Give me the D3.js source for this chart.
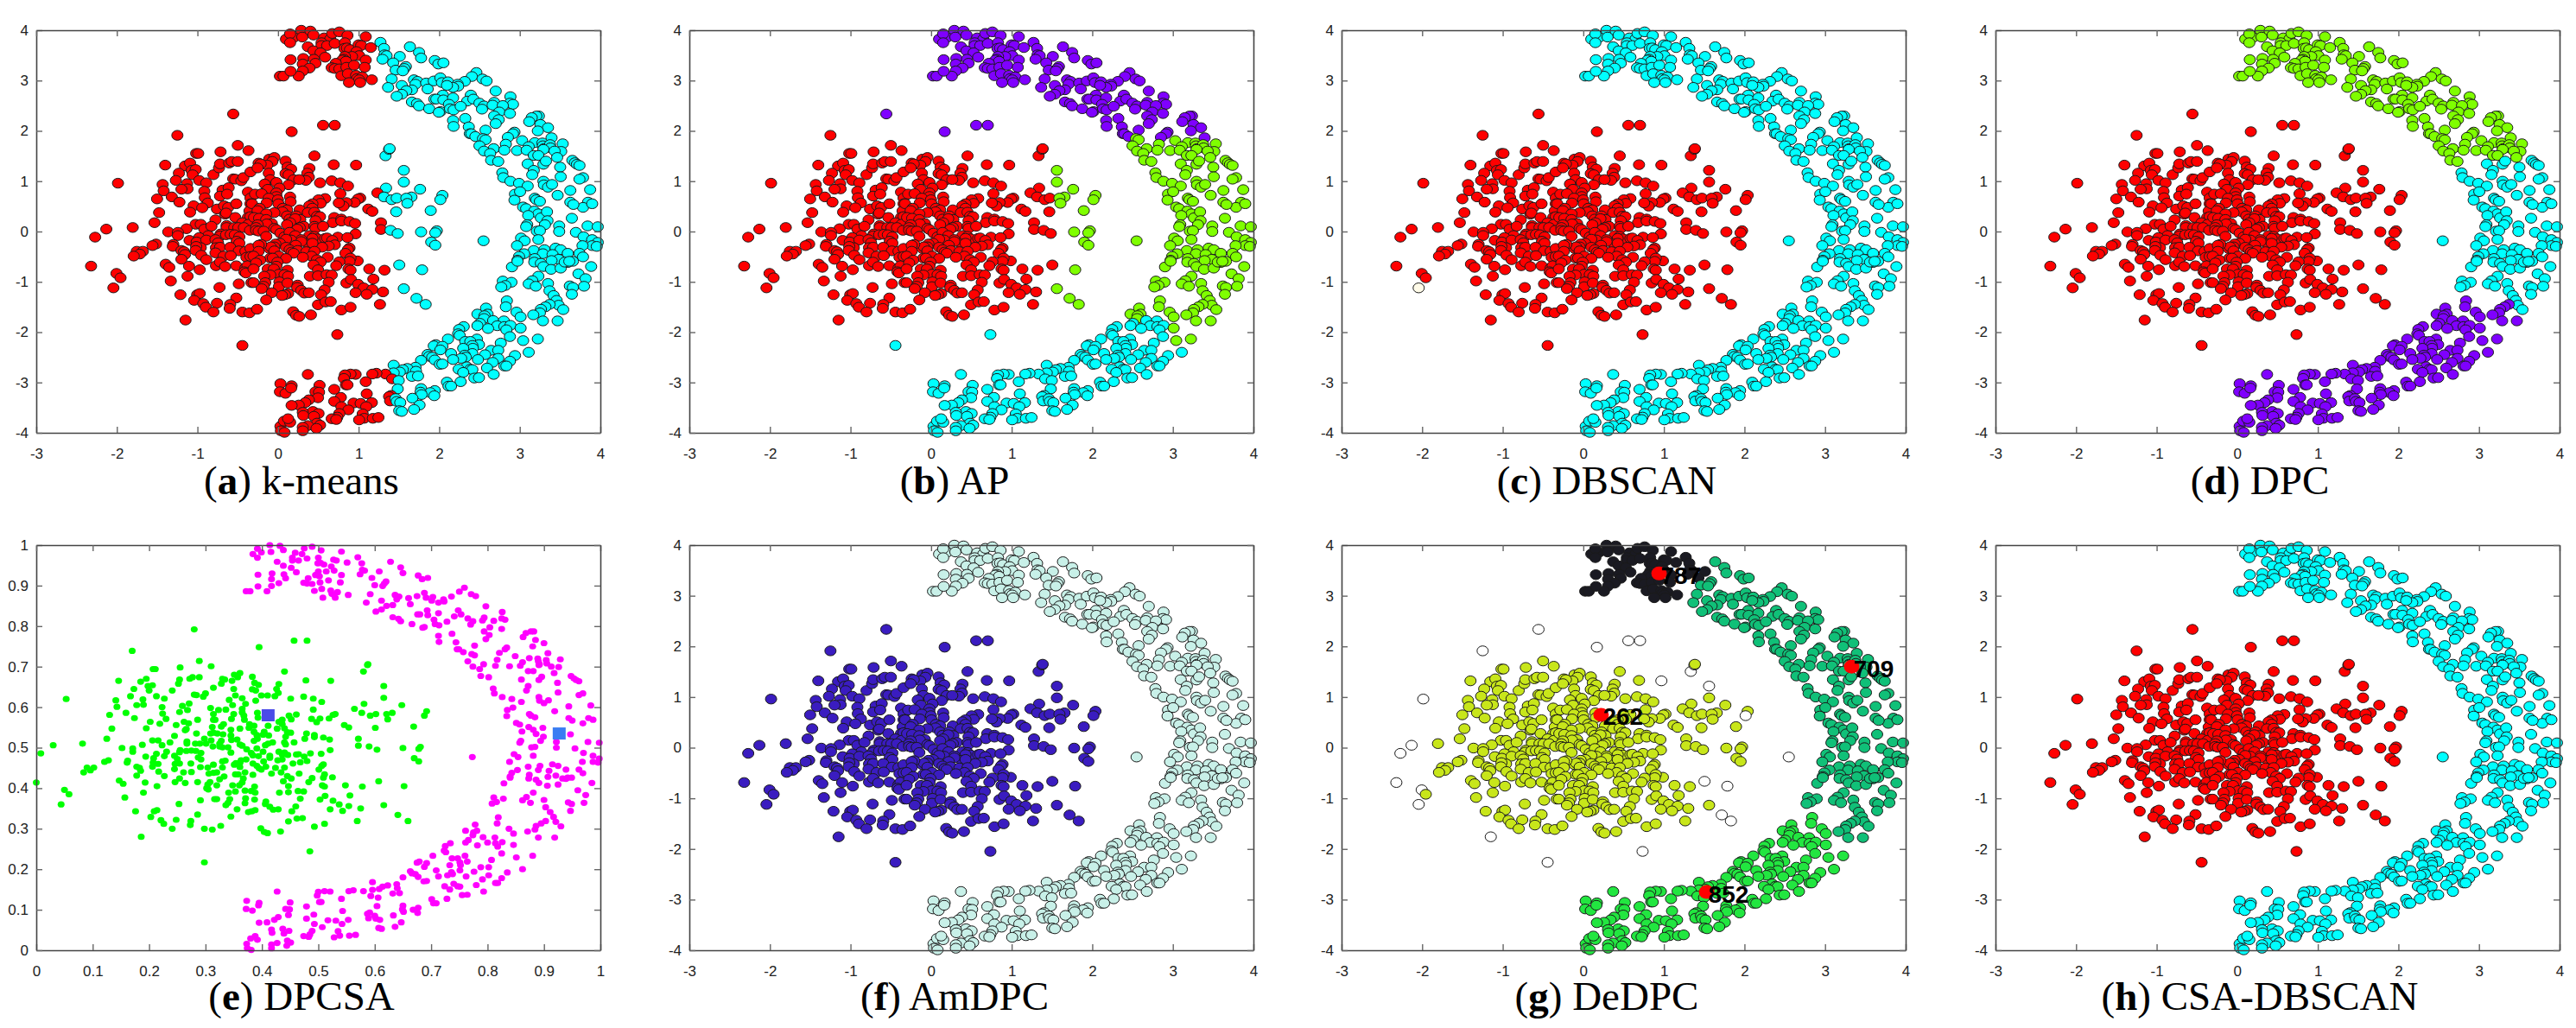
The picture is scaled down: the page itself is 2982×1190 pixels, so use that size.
<!DOCTYPE html>
<html>
<head>
<meta charset="utf-8">
<script src="https://d3js.org/d3.v7.min.js"></script>
<style>
  html, body { margin: 0; background: #fff; }
  svg { display: block; }
  .tick text { font-family: "Liberation Sans", sans-serif; font-size: 17px; fill: #222; }
  .caption { font-family: "Liberation Serif", serif; font-size: 47px; fill: #000; text-anchor: middle; }
  .center-label { font-family: "Liberation Sans", sans-serif; font-size: 28px; font-weight: bold; fill: #000; }
</style>
</head>
<body>
<div class="canvas"></div>
<script>
const blobPts = [
[.207,.694],[.211,.694],[.255,.698],[.310,.701],[.146,.665],[.185,.663],[.195,.670],[.173,.645],[.198,.652],[.206,.654],
[.200,.641],[.167,.627],[.213,.627],[.227,.621],[.241,.641],[.252,.658],[.254,.668],[.272,.670],[.277,.674],[.289,.674],
[.280,.631],[.284,.630],[.296,.626],[.300,.634],[.314,.648],[.053,.620],[.141,.617],[.143,.601],[.189,.619],[.190,.606],
[.178,.605],[.223,.600],[.224,.584],[.230,.571],[.259,.603],[.271,.609],[.254,.588],[.268,.593],[.309,.598],[.130,.581],
[.159,.586],[.174,.573],[.202,.564],[.219,.559],[.195,.548],[.248,.556],[.262,.564],[.270,.560],[.286,.569],[.264,.543],
[.266,.546],[.314,.583],[.314,.569],[.312,.551],[.134,.547],[.284,.535],[.309,.535],[.314,.537],[.245,.529],[.125,.522],
[.206,.518],[.216,.518],[.223,.506],[.237,.513],[.267,.515],[.267,.510],[.298,.522],[.310,.518],[.282,.510],[.290,.510],
[.301,.510],[.313,.503],[.082,.510],[.030,.506],[.008,.486],[.188,.507],[.152,.499],[.171,.498],[.171,.490],[.231,.490],
[.255,.494],[.254,.489],[.266,.492],[.275,.493],[.283,.492],[.292,.487],[.194,.478],[.213,.485],[.208,.474],[.227,.479],
[.245,.480],[.250,.472],[.287,.476],[.292,.471],[.128,.469],[.121,.465],[.162,.468],[.161,.463],[.216,.460],[.207,.463],
[.206,.453],[.246,.460],[.254,.461],[.274,.461],[.291,.452],[.304,.451],[.314,.458],[.178,.453],[.183,.450],[.185,.443],
[.178,.431],[.090,.451],[.102,.451],[.096,.444],[.084,.439],[.217,.441],[.227,.430],[.245,.447],[.261,.439],[.275,.440],
[.306,.436],[.314,.438],[.147,.419],[.154,.411],[.193,.414],[.214,.405],[.246,.415],[.254,.424],[.264,.413],[.286,.415],
[.304,.409],[.308,.415],[.302,.400],[.305,.397],[.190,.389],[.050,.396],[.058,.385],[.044,.360],[.157,.377],[.253,.361],
[.291,.370],[.316,.373],[.176,.343],[.209,.343],[.214,.346],[.203,.329],[.286,.335],[.221,.321],[.226,.312],[.248,.322],
[.274,.319],[.273,.309],[.241,.300],[.298,.300],[.312,.298],[.186,.280],[.000,.414],
[.440,.688],[.478,.666],[.522,.665],[.580,.688],[.587,.704],[.616,.652],[.616,.623],[.383,.675],[.351,.680],[.361,.684],
[.357,.674],[.347,.665],[.330,.670],[.334,.668],[.328,.658],[.350,.645],[.387,.660],[.394,.655],[.383,.644],[.389,.641],
[.430,.657],[.426,.645],[.429,.635],[.423,.627],[.399,.629],[.410,.629],[.353,.629],[.365,.622],[.342,.618],[.389,.616],
[.348,.605],[.371,.608],[.365,.596],[.451,.621],[.474,.626],[.491,.621],[.506,.613],[.581,.608],[.323,.593],[.336,.594],
[.365,.587],[.350,.583],[.368,.579],[.346,.571],[.317,.569],[.491,.594],[.564,.596],[.577,.586],[.592,.579],[.602,.583],
[.530,.583],[.526,.581],[.519,.572],[.503,.572],[.497,.563],[.488,.571],[.461,.582],[.448,.579],[.452,.570],[.436,.569],
[.430,.564],[.436,.558],[.392,.586],[.393,.574],[.369,.569],[.378,.558],[.386,.554],[.377,.549],[.361,.547],[.332,.558],
[.328,.552],[.345,.544],[.321,.535],[.331,.533],[.345,.530],[.411,.554],[.427,.547],[.440,.548],[.445,.538],[.451,.537],
[.386,.539],[.391,.531],[.404,.539],[.412,.530],[.402,.532],[.546,.556],[.554,.550],[.601,.549],[.479,.535],[.476,.522],
[.493,.531],[.493,.526],[.509,.525],[.520,.520],[.571,.522],[.571,.505],[.590,.503],[.604,.495],[.521,.494],[.442,.527],
[.392,.522],[.386,.517],[.356,.520],[.346,.519],[.328,.517],[.419,.513],[.411,.510],[.406,.506],[.440,.513],[.442,.508],
[.457,.513],[.325,.510],[.361,.508],[.365,.505],[.325,.503],[.330,.501],[.340,.501],[.345,.488],[.373,.496],[.381,.487],
[.391,.498],[.402,.490],[.430,.490],[.440,.488],[.446,.482],[.436,.483],[.414,.480],[.394,.479],[.384,.481],[.461,.483],
[.465,.484],[.486,.486],[.505,.485],[.475,.478],[.480,.467],[.468,.464],[.455,.461],[.428,.469],[.436,.471],[.414,.475],
[.403,.466],[.372,.471],[.363,.469],[.361,.462],[.351,.458],[.354,.462],[.335,.468],[.330,.466],[.330,.451],[.361,.452],
[.384,.461],[.391,.455],[.395,.449],[.407,.453],[.399,.446],[.424,.450],[.440,.451],[.434,.439],[.417,.436],[.466,.436],
[.509,.459],[.506,.455],[.501,.446],[.525,.427],[.511,.434],[.509,.426],[.320,.439],[.370,.439],[.353,.434],[.358,.434],
[.384,.433],[.367,.424],[.333,.429],[.325,.422],[.445,.430],[.452,.424],[.489,.425],[.483,.415],[.438,.417],[.447,.405],
[.320,.407],[.348,.407],[.365,.414],[.360,.407],[.387,.404],[.370,.394],[.353,.392],[.341,.389],[.381,.393],[.388,.389],
[.431,.389],[.447,.390],[.464,.393],[.474,.392],[.507,.407],[.511,.404],[.548,.407],[.578,.404],[.607,.417],[.320,.373],
[.343,.373],[.340,.364],[.336,.358],[.371,.375],[.370,.363],[.387,.372],[.468,.374],[.503,.372],[.512,.381],[.526,.369],
[.556,.382],[.537,.360],[.554,.356],[.521,.348],[.543,.344],[.575,.350],[.616,.358],[.356,.348],[.407,.367],[.406,.361],
[.414,.354],[.420,.347],[.429,.348],[.460,.355],[.453,.343],[.388,.346],[.382,.343],[.376,.341],[.345,.330],[.447,.318],
[.462,.325],[.472,.326],[.569,.319],[.398,.301],[.404,.292],[.410,.289],[.433,.293],[.493,.305],[.511,.312],[.327,.307],
[.648,.605],[.631,.586],[.692,.590],[.688,.579],[.669,.552],[.650,.499],[.681,.502],[.678,.497],[.670,.474],[.678,.466],
[.652,.405],[.641,.334],[.659,.319],[.621,.583],[.623,.570],[.457,.764],[.480,.764],[.395,.748],[.588,.706],[.280,.792],
[.170,.739],[.289,.714],[.298,.217],[.485,.244]
];

const crescentPts = [
[.414,1.0],[.432,.998],[.438,.988],[.399,.982],[.416,.983],[.459,.981],[.471,.978],[.475,.992],[.489,.996],[.505,.987],
[.541,.984],[.570,.970],[.454,.969],[.454,.962],[.465,.962],[.480,.967],[.500,.969],[.427,.959],[.438,.949],[.452,.944],
[.499,.955],[.504,.956],[.510,.952],[.527,.964],[.532,.962],[.551,.957],[.577,.955],[.628,.959],[.646,.945],[.650,.931],
[.523,.947],[.528,.937],[.578,.939],[.582,.937],[.574,.928],[.608,.935],[.461,.933],[.418,.930],[.439,.928],[.442,.918],
[.417,.916],[.514,.935],[.500,.935],[.498,.928],[.495,.926],[.502,.923],[.541,.926],[.677,.925],[.684,.916],[.694,.919],
[.482,.918],[.474,.907],[.480,.905],[.489,.904],[.503,.908],[.518,.913],[.539,.908],[.595,.919],[.600,.901],[.620,.910],
[.617,.905],[.614,.899],[.430,.906],[.417,.899],[.409,.886],[.493,.887],[.506,.892],[.522,.888],[.524,.880],[.534,.884],
[.528,.877],[.530,.870],[.508,.870],[.553,.877],[.592,.879],[.636,.877],[.643,.873],[.639,.866],[.660,.869],[.675,.874],
[.688,.882],[.691,.870],[.585,.858],[.612,.863],[.663,.854],[.632,.852],[.621,.850],[.612,.841],[.602,.836],[.693,.839],
[.676,.829],[.680,.829],[.694,.827],[.632,.822],[.642,.818],[.646,.812],[.666,.805],[.688,.798],[.685,.796],
[.372,.886],[.379,.886],[.384,.978],[.392,.991],[.392,.969],[.393,.927],[.393,.898],
[.759,.895],[.750,.885],[.771,.879],[.779,.874],[.736,.873],[.703,.872],[.722,.866],[.723,.861],[.713,.858],[.701,.863],
[.797,.849],[.748,.839],[.826,.835],[.713,.832],[.741,.824],[.753,.829],[.765,.819],[.774,.812],[.770,.804],[.794,.821],
[.791,.814],[.825,.819],[.831,.816],[.811,.813],[.705,.816],[.707,.805],[.714,.802],[.728,.811],[.804,.797],[.825,.793],
[.794,.787],[.803,.778],[.797,.768],[.713,.776],[.714,.761],[.737,.781],[.744,.760],[.882,.787],[.877,.787],[.868,.783],
[.863,.773],[.885,.766],[.900,.758],[.880,.750],[.777,.752],[.834,.747],[.831,.743],[.746,.743],[.749,.743],[.757,.736],
[.821,.734],[.772,.731],[.777,.728],[.907,.733],[.849,.726],[.874,.721],[.889,.720],[.890,.713],[.892,.706],[.904,.716],
[.905,.708],[.929,.718],[.817,.717],[.765,.713],[.862,.711],[.793,.706],[.926,.699],
[.948,.677],[.953,.671],[.957,.667],[.962,.664],[.969,.634],[.962,.630],[.944,.602],[.983,.604],[.979,.573],[.944,.573],
[.774,.700],[.786,.694],[.814,.702],[.839,.701],[.858,.702],[.891,.704],[.913,.700],[.872,.689],[.881,.689],[.918,.684],
[.788,.677],[.802,.674],[.860,.668],[.891,.667],[.896,.675],[.924,.660],[.810,.646],[.872,.652],[.869,.641],[.812,.634],
[.826,.625],[.843,.620],[.860,.613],[.891,.625],[.892,.616],[.900,.610],[.908,.617],[.925,.636],[.835,.593],[.845,.599],
[.834,.578],[.874,.583],[.877,.579],[.884,.575],[.919,.590],[.851,.561],[.857,.557],[.873,.551],[.881,.544],[.886,.534],
[.898,.549],[.861,.540],[.899,.527],[.894,.517],[.859,.517],[.857,.512],[.922,.514],[.922,.500],[.878,.501],[.884,.502],
[.847,.484],[.854,.477],[.881,.480],[.839,.465],[.773,.477],[.872,.453],[.893,.455],[.890,.445],[.915,.459],[.925,.455],
[.909,.443],[.853,.445],[.843,.438],[.840,.429],[.921,.431],[.907,.428],[.874,.433],
[.947,.533],[.955,.498],[.969,.560],[.978,.514],[.998,.512],[.970,.487],[.987,.480],[.998,.473],[.987,.465],[.996,.463],
[.968,.465],[.962,.446],[.969,.437],[.939,.446],[.949,.426],[.939,.423],[.950,.567],[.987,.569],
[.829,.412],[.840,.426],[.873,.424],[.886,.421],[.891,.413],[.906,.406],[.925,.409],[.933,.424],[.942,.426],[.985,.413],
[.960,.395],[.974,.383],[.971,.364],[.881,.389],[.869,.378],[.862,.370],[.811,.377],[.828,.374],[.816,.366],[.808,.362],
[.876,.364],[.900,.371],[.943,.365],[.949,.361],[.947,.344],[.903,.353],[.911,.341],[.917,.329],[.921,.317],[.930,.306],
[.903,.319],[.895,.313],[.886,.307],[.884,.298],[.819,.328],[.817,.313],[.778,.310],[.838,.300],[.761,.295],[.781,.295],
[.775,.291],[.774,.284],[.846,.288],[.871,.293],[.890,.278],[.919,.278],[.792,.279],[.813,.278],[.766,.272],[.761,.266],
[.800,.266],[.814,.264],[.826,.267],[.818,.256],[.782,.259],[.846,.260],[.734,.264],[.725,.257],[.723,.246],[.726,.242],
[.825,.239],[.703,.233],[.760,.233],[.737,.227],[.747,.227],[.764,.219],[.851,.229],[.880,.233],[.807,.223],[.751,.217],
[.752,.210],[.733,.210],[.751,.197],[.788,.205],[.802,.205],[.709,.197],[.776,.194],[.835,.192],[.862,.200],[.736,.193],
[.738,.188],[.729,.185],[.713,.182],[.762,.182],[.802,.185],[.825,.178],[.791,.175],[.814,.166],[.818,.166],[.740,.164],
[.724,.158],[.747,.158],[.751,.157],[.780,.161],[.733,.150],[.793,.145],[.755,.136],[.764,.137],[.728,.127],[.701,.126],
[.704,.116],[.709,.116],
[.679,.219],[.675,.216],[.692,.215],[.688,.206],[.663,.195],[.666,.190],[.672,.188],[.677,.181],[.650,.180],[.687,.170],
[.692,.171],[.596,.168],[.639,.163],[.623,.160],[.614,.157],[.640,.153],[.608,.151],[.596,.149],[.580,.146],[.562,.148],
[.554,.146],[.521,.145],[.511,.146],[.500,.144],[.427,.145],[.498,.135],[.593,.134],[.632,.140],[.644,.141],[.606,.130],
[.541,.127],[.502,.119],[.505,.119],[.395,.117],[.450,.118],[.604,.109],[.479,.108],[.650,.110],[.442,.102],[.449,.101],
[.677,.105],[.668,.100],[.676,.092],[.649,.101],[.651,.095],[.543,.097],[.447,.087],[.591,.093],[.587,.090],[.492,.088],
[.429,.082],[.422,.075],[.479,.078],[.589,.079],[.600,.085],[.602,.078],[.609,.075],[.633,.086],[.553,.075],[.517,.074],
[.531,.073],[.409,.069],[.395,.068],[.493,.065],[.542,.065],[.647,.069],[.636,.058],[.507,.057],[.607,.055],[.612,.053],
[.437,.053],[.417,.051],[.418,.043],[.448,.048],[.439,.041],[.535,.047],[.489,.048],[.485,.039],[.474,.035],[.483,.033],
[.538,.036],[.528,.032],[.555,.036],[.566,.038],[.445,.024],[.451,.019],[.427,.018],[.444,.011],[.417,.014],[.417,.005],
[.373,.122],[.372,.102],[.383,.098],[.394,.111],[.373,.016],[.374,.005],[.381,.001],[.380,.029],[.392,.026],[.388,.035]
];

// what the normalised 0-1 of panel (e) is in the -3..4 / -4..4 axes of the others
const rawX = [-2.32, 3.98];
const rawY = [-4, 4];

const xTicks = [-3, -2, -1, 0, 1, 2, 3, 4];
const yTicks = [-4, -3, -2, -1, 0, 1, 2, 3, 4];
const normTicks = [0, 0.1, 0.2, 0.3, 0.4, 0.5, 0.6, 0.7, 0.8, 0.9, 1];

const panelLetters = ['a', 'b', 'c', 'd', 'e', 'f', 'g', 'h'];
const panelNames = ['k-means', 'AP', 'DBSCAN', 'DPC', 'DPCSA', 'AmDPC', 'DeDPC', 'CSA-DBSCAN'];

// panel (e) cluster centres
const dpcsaCenters = [[0.411, 0.580, '#4b4be8'], [0.927, 0.535, '#3a7df2']];
// panel (g) density peaks and the points it leaves unassigned
const dedpcCenters = [[0.94, 3.44, '787'], [3.33, 1.6, '709'], [0.22, 0.65, '262'], [1.53, -2.85, '852']];
const dedpcNoise = [[-0.55,2.3],[0.18,1.95],[-1.25,1.9],[0.6,2.08],[0.73,2.08],[1.35,1.45],[1.4,1.6],[1,1.3],[1.6,1.18],
  [-1.98,0.93],[2.05,0.6],[-2.1,0],[-2.27,-0.15],[-2.32,-0.72],[-2,-0.87],[-2.03,-1.15],[1.53,-0.7],[1.8,-0.8],
  [1.75,-1.37],[1.86,-1.48],[-1.13,-1.8],[0.77,-2.08],[-0.45,-2.27],[2.6,-0.22]];

const colLeft = [42, 798, 1553, 2310];
const colCaption = [349, 1105, 1860, 2616];
const rowTop = [35, 631];
const rowBottom = [501, 1100];
const captionY = [572, 1169];
const plotWidth = 653;

const toX = d3.scaleLinear().domain([0, 1]).range(rawX);
const toY = d3.scaleLinear().domain([0, 1]).range(rawY);

const points = [
  ...blobPts.map(p => ({ u: p[0], v: p[1], x: toX(p[0]), y: toY(p[1]), blob: true })),
  ...crescentPts.map(p => ({ u: p[0], v: p[1], x: toX(p[0]), y: toY(p[1]), blob: false }))
];

// nearest point to each listed outlier is the one drawn hollow in (g)
dedpcNoise.forEach(n => {
  const hit = d3.least(points, p => (p.x - n[0]) ** 2 + (p.y - n[1]) ** 2);
  hit.noise = true;
});
const dbscanNoise = d3.least(points, p => (p.x + 2.03) ** 2 + (p.y + 1.15) ** 2);

// colour rules, one per panel, from where each method cuts the data
const kmeansColor = d => (d.x + 0.03 * d.y > 1.33 ? '#00ffff' : '#ff0000');

const apColor = d => {
  if (d.blob) {
    if (d.y > 1.85 && d.x > -1) return '#7f00ff';
    if (d.y < -2) return '#00ffff';
    return d.x > 1.55 ? '#7fff00' : '#ff0000';
  }
  if (d.x < 1.5 && d.y > 0) return '#7f00ff';
  if (d.y > 1.85) return '#7f00ff';
  if (d.y < -1.75 - (d.x > 3 ? 0.6 : 0)) return '#00ffff';
  if (d.x < 2.4) return d.y > 0 ? '#7f00ff' : (d.x > 2.3 ? '#7fff00' : '#00ffff');
  return '#7fff00';
};

const dbscanColor = d => {
  if (d === dbscanNoise) return '#fffbe8';
  return d.blob ? '#ff0000' : '#00ffff';
};

const dpcColor = d => {
  if (d.blob) return '#ff0000';
  if (d.y > 1.44 || (d.y > 1.2 && d.x < 2.8)) return '#7fff00';
  if (d.y < -1.3 && !(d.x > 3.45 && d.y > -1.75)) return '#7f00ff';
  return '#00ffff';
};

const dpcsaColor = d => (d.blob ? '#00ff00' : '#ff00ff');
const amdpcColor = d => (d.blob ? '#3a1cc0' : '#c8f0e8');

const dedpcColor = d => {
  if (d.noise) return '#ffffff';
  if (d.blob) return '#c8e61a';
  if (d.y > 0 && d.x < 1.55 && (d.x < 1.3 || d.y > 3.25)) return '#1a1a22';
  if (d.y < -1.3 && (d.x < 3.12 || d.y < -2)) return '#22e640';
  return '#10c078';
};

const csaColor = d => (d.blob ? '#ff0000' : '#00ffff');

const panelColors = [kmeansColor, apColor, dbscanColor, dpcColor, dpcsaColor, amdpcColor, dedpcColor, csaColor];

const svg = d3.select('.canvas')
    .append('svg')
    .attr('width', 2982)
    .attr('height', 1190);

panelNames.forEach((name, i) => {
    const col = i % 4;
    const row = Math.floor(i / 4);
    const norm = i === 4; // DPCSA plots on the 0-1 axes

    const top = rowTop[row];
    const height = rowBottom[row] - top;

    const x = d3.scaleLinear().domain(norm ? [0, 1] : [-3, 4]).range([0, plotWidth]);
    const y = d3.scaleLinear().domain(norm ? [0, 1] : [-4, 4]).range([height, 0]);
    const xt = norm ? normTicks : xTicks;
    const yt = norm ? normTicks : yTicks;

    const graph = svg.append('g')
        .attr('transform', `translate(${colLeft[col]}, ${top})`);

    const px = d => (norm ? x(d.u) : x(d.x));
    const py = d => (norm ? y(d.v) : y(d.y));

    // dots sit slightly wide in the source, it was scaled unevenly
    graph.selectAll('ellipse.pt')
        .data(points)
        .enter()
        .append('ellipse')
            .attr('class', 'pt')
            .attr('cx', px)
            .attr('cy', py)
            .attr('rx', norm ? 4 : 6.5)
            .attr('ry', norm ? 3.6 : 5.7)
            .attr('fill', panelColors[i])
            .attr('stroke', norm ? 'none' : '#1a1a1a')
            .attr('stroke-width', 1);

    if (norm) {
        graph.selectAll('rect.center')
            .data(dpcsaCenters)
            .enter()
            .append('rect')
                .attr('class', 'center')
                .attr('x', d => x(d[0]) - 7.5)
                .attr('y', d => y(d[1]) - 7)
                .attr('width', 15)
                .attr('height', 14)
                .attr('fill', d => d[2]);
    }

    if (name === 'DeDPC') {
        graph.selectAll('ellipse.center')
            .data(dedpcCenters)
            .enter()
            .append('ellipse')
                .attr('class', 'center')
                .attr('cx', d => x(d[0]))
                .attr('cy', d => y(d[1]))
                .attr('rx', 9)
                .attr('ry', 8)
                .attr('fill', '#ff0000');
        graph.selectAll('text.center-label')
            .data(dedpcCenters)
            .enter()
            .append('text')
                .attr('class', 'center-label')
                .attr('x', d => x(d[0]) + 2)
                .attr('y', d => y(d[1]) + 12)
                .text(d => d[2]);
    }

    const fmt = d => String(d);

    const addAxis = (axis, tx, ty) => {
        const g = graph.append('g')
            .attr('transform', `translate(${tx}, ${ty})`)
            .call(axis);
        g.select('.domain').attr('stroke', '#444').attr('stroke-width', 1.6);
        g.selectAll('.tick line').attr('stroke', '#666').attr('stroke-width', 1.4);
        return g;
    };

    addAxis(d3.axisBottom(x).tickValues(xt).tickSize(-7).tickSizeOuter(0).tickPadding(18).tickFormat(fmt), 0, height);
    addAxis(d3.axisLeft(y).tickValues(yt).tickSize(-7).tickSizeOuter(0).tickPadding(9).tickFormat(fmt), 0, 0);
    // mirrored ticks on top and right carry no labels
    addAxis(d3.axisTop(x).tickValues(xt).tickSize(-7).tickSizeOuter(0), 0, 0).selectAll('text').remove();
    addAxis(d3.axisRight(y).tickValues(yt).tickSize(-7).tickSizeOuter(0), plotWidth, 0).selectAll('text').remove();

    const caption = svg.append('text')
        .attr('class', 'caption')
        .attr('x', colCaption[col])
        .attr('y', captionY[row]);
    caption.append('tspan').text('(');
    caption.append('tspan').attr('font-weight', 'bold').text(panelLetters[i]);
    caption.append('tspan').text(') ' + name);
});
</script>
</body>
</html>
